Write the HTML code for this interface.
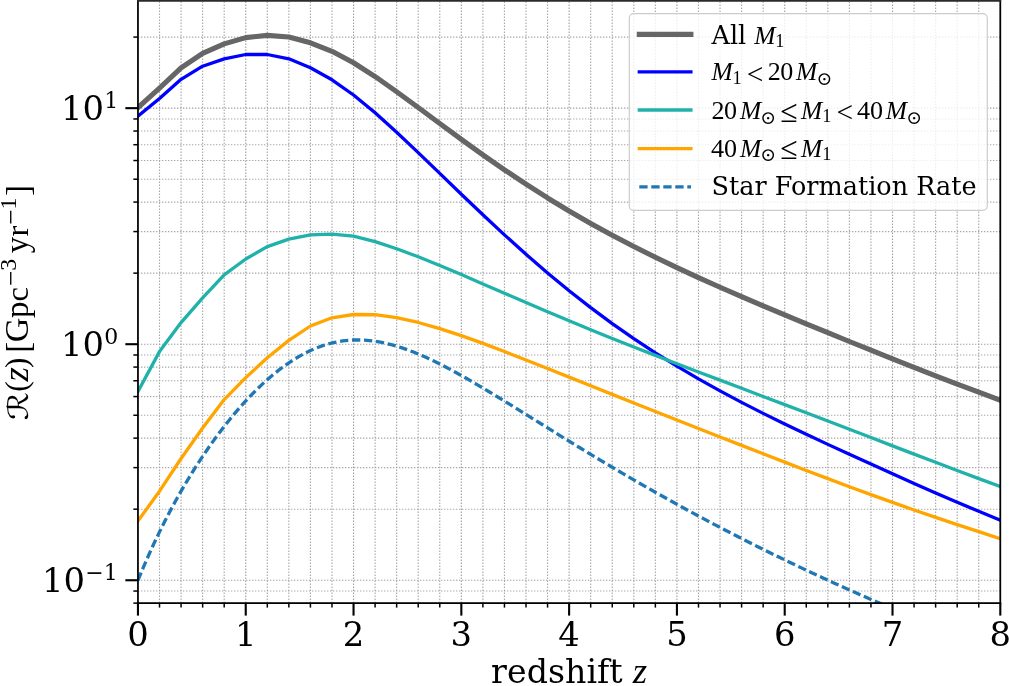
<!DOCTYPE html><html><head><meta charset="utf-8"><style>html,body{margin:0;padding:0;background:#fff;}svg{display:block}.dv{font-family:"DejaVu Serif",serif}.lb{font-family:"Liberation Serif","DejaVu Serif",serif}</style></head><body>
<svg width="1009" height="686" viewBox="0 0 1009 686">
<rect x="0" y="0" width="1009" height="686" fill="#ffffff"/>
<defs><clipPath id="ax"><rect x="137.95" y="0.3" width="862.3499999999999" height="602.7"/></clipPath></defs>
<g clip-path="url(#ax)"><line x1="137.95" y1="603.0" x2="137.95" y2="0.3" stroke="#a0a0a0" stroke-width="1.13" stroke-dasharray="1.4 1.6"/><line x1="159.51" y1="603.0" x2="159.51" y2="0.3" stroke="#a8a8a8" stroke-width="1.13" stroke-dasharray="1.4 1.6"/><line x1="181.07" y1="603.0" x2="181.07" y2="0.3" stroke="#a8a8a8" stroke-width="1.13" stroke-dasharray="1.4 1.6"/><line x1="202.63" y1="603.0" x2="202.63" y2="0.3" stroke="#a8a8a8" stroke-width="1.13" stroke-dasharray="1.4 1.6"/><line x1="224.19" y1="603.0" x2="224.19" y2="0.3" stroke="#a8a8a8" stroke-width="1.13" stroke-dasharray="1.4 1.6"/><line x1="245.74" y1="603.0" x2="245.74" y2="0.3" stroke="#a0a0a0" stroke-width="1.13" stroke-dasharray="1.4 1.6"/><line x1="267.30" y1="603.0" x2="267.30" y2="0.3" stroke="#a8a8a8" stroke-width="1.13" stroke-dasharray="1.4 1.6"/><line x1="288.86" y1="603.0" x2="288.86" y2="0.3" stroke="#a8a8a8" stroke-width="1.13" stroke-dasharray="1.4 1.6"/><line x1="310.42" y1="603.0" x2="310.42" y2="0.3" stroke="#a8a8a8" stroke-width="1.13" stroke-dasharray="1.4 1.6"/><line x1="331.98" y1="603.0" x2="331.98" y2="0.3" stroke="#a8a8a8" stroke-width="1.13" stroke-dasharray="1.4 1.6"/><line x1="353.54" y1="603.0" x2="353.54" y2="0.3" stroke="#a0a0a0" stroke-width="1.13" stroke-dasharray="1.4 1.6"/><line x1="375.10" y1="603.0" x2="375.10" y2="0.3" stroke="#a8a8a8" stroke-width="1.13" stroke-dasharray="1.4 1.6"/><line x1="396.65" y1="603.0" x2="396.65" y2="0.3" stroke="#a8a8a8" stroke-width="1.13" stroke-dasharray="1.4 1.6"/><line x1="418.21" y1="603.0" x2="418.21" y2="0.3" stroke="#a8a8a8" stroke-width="1.13" stroke-dasharray="1.4 1.6"/><line x1="439.77" y1="603.0" x2="439.77" y2="0.3" stroke="#a8a8a8" stroke-width="1.13" stroke-dasharray="1.4 1.6"/><line x1="461.33" y1="603.0" x2="461.33" y2="0.3" stroke="#a0a0a0" stroke-width="1.13" stroke-dasharray="1.4 1.6"/><line x1="482.89" y1="603.0" x2="482.89" y2="0.3" stroke="#a8a8a8" stroke-width="1.13" stroke-dasharray="1.4 1.6"/><line x1="504.45" y1="603.0" x2="504.45" y2="0.3" stroke="#a8a8a8" stroke-width="1.13" stroke-dasharray="1.4 1.6"/><line x1="526.01" y1="603.0" x2="526.01" y2="0.3" stroke="#a8a8a8" stroke-width="1.13" stroke-dasharray="1.4 1.6"/><line x1="547.57" y1="603.0" x2="547.57" y2="0.3" stroke="#a8a8a8" stroke-width="1.13" stroke-dasharray="1.4 1.6"/><line x1="569.12" y1="603.0" x2="569.12" y2="0.3" stroke="#a0a0a0" stroke-width="1.13" stroke-dasharray="1.4 1.6"/><line x1="590.68" y1="603.0" x2="590.68" y2="0.3" stroke="#a8a8a8" stroke-width="1.13" stroke-dasharray="1.4 1.6"/><line x1="612.24" y1="603.0" x2="612.24" y2="0.3" stroke="#a8a8a8" stroke-width="1.13" stroke-dasharray="1.4 1.6"/><line x1="633.80" y1="603.0" x2="633.80" y2="0.3" stroke="#a8a8a8" stroke-width="1.13" stroke-dasharray="1.4 1.6"/><line x1="655.36" y1="603.0" x2="655.36" y2="0.3" stroke="#a8a8a8" stroke-width="1.13" stroke-dasharray="1.4 1.6"/><line x1="676.92" y1="603.0" x2="676.92" y2="0.3" stroke="#a0a0a0" stroke-width="1.13" stroke-dasharray="1.4 1.6"/><line x1="698.48" y1="603.0" x2="698.48" y2="0.3" stroke="#a8a8a8" stroke-width="1.13" stroke-dasharray="1.4 1.6"/><line x1="720.04" y1="603.0" x2="720.04" y2="0.3" stroke="#a8a8a8" stroke-width="1.13" stroke-dasharray="1.4 1.6"/><line x1="741.60" y1="603.0" x2="741.60" y2="0.3" stroke="#a8a8a8" stroke-width="1.13" stroke-dasharray="1.4 1.6"/><line x1="763.15" y1="603.0" x2="763.15" y2="0.3" stroke="#a8a8a8" stroke-width="1.13" stroke-dasharray="1.4 1.6"/><line x1="784.71" y1="603.0" x2="784.71" y2="0.3" stroke="#a0a0a0" stroke-width="1.13" stroke-dasharray="1.4 1.6"/><line x1="806.27" y1="603.0" x2="806.27" y2="0.3" stroke="#a8a8a8" stroke-width="1.13" stroke-dasharray="1.4 1.6"/><line x1="827.83" y1="603.0" x2="827.83" y2="0.3" stroke="#a8a8a8" stroke-width="1.13" stroke-dasharray="1.4 1.6"/><line x1="849.39" y1="603.0" x2="849.39" y2="0.3" stroke="#a8a8a8" stroke-width="1.13" stroke-dasharray="1.4 1.6"/><line x1="870.95" y1="603.0" x2="870.95" y2="0.3" stroke="#a8a8a8" stroke-width="1.13" stroke-dasharray="1.4 1.6"/><line x1="892.51" y1="603.0" x2="892.51" y2="0.3" stroke="#a0a0a0" stroke-width="1.13" stroke-dasharray="1.4 1.6"/><line x1="914.06" y1="603.0" x2="914.06" y2="0.3" stroke="#a8a8a8" stroke-width="1.13" stroke-dasharray="1.4 1.6"/><line x1="935.62" y1="603.0" x2="935.62" y2="0.3" stroke="#a8a8a8" stroke-width="1.13" stroke-dasharray="1.4 1.6"/><line x1="957.18" y1="603.0" x2="957.18" y2="0.3" stroke="#a8a8a8" stroke-width="1.13" stroke-dasharray="1.4 1.6"/><line x1="978.74" y1="603.0" x2="978.74" y2="0.3" stroke="#a8a8a8" stroke-width="1.13" stroke-dasharray="1.4 1.6"/><line x1="1000.30" y1="603.0" x2="1000.30" y2="0.3" stroke="#a0a0a0" stroke-width="1.13" stroke-dasharray="1.4 1.6"/><line x1="137.95" y1="603.13" x2="1000.3" y2="603.13" stroke="#a8a8a8" stroke-width="1.13" stroke-dasharray="1.4 1.6"/><line x1="137.95" y1="591.05" x2="1000.3" y2="591.05" stroke="#a8a8a8" stroke-width="1.13" stroke-dasharray="1.4 1.6"/><line x1="137.95" y1="580.25" x2="1000.3" y2="580.25" stroke="#a0a0a0" stroke-width="1.13" stroke-dasharray="1.4 1.6"/><line x1="137.95" y1="509.19" x2="1000.3" y2="509.19" stroke="#a8a8a8" stroke-width="1.13" stroke-dasharray="1.4 1.6"/><line x1="137.95" y1="467.63" x2="1000.3" y2="467.63" stroke="#a8a8a8" stroke-width="1.13" stroke-dasharray="1.4 1.6"/><line x1="137.95" y1="438.13" x2="1000.3" y2="438.13" stroke="#a8a8a8" stroke-width="1.13" stroke-dasharray="1.4 1.6"/><line x1="137.95" y1="415.26" x2="1000.3" y2="415.26" stroke="#a8a8a8" stroke-width="1.13" stroke-dasharray="1.4 1.6"/><line x1="137.95" y1="396.57" x2="1000.3" y2="396.57" stroke="#a8a8a8" stroke-width="1.13" stroke-dasharray="1.4 1.6"/><line x1="137.95" y1="380.76" x2="1000.3" y2="380.76" stroke="#a8a8a8" stroke-width="1.13" stroke-dasharray="1.4 1.6"/><line x1="137.95" y1="367.08" x2="1000.3" y2="367.08" stroke="#a8a8a8" stroke-width="1.13" stroke-dasharray="1.4 1.6"/><line x1="137.95" y1="355.00" x2="1000.3" y2="355.00" stroke="#a8a8a8" stroke-width="1.13" stroke-dasharray="1.4 1.6"/><line x1="137.95" y1="344.20" x2="1000.3" y2="344.20" stroke="#a0a0a0" stroke-width="1.13" stroke-dasharray="1.4 1.6"/><line x1="137.95" y1="273.14" x2="1000.3" y2="273.14" stroke="#a8a8a8" stroke-width="1.13" stroke-dasharray="1.4 1.6"/><line x1="137.95" y1="231.58" x2="1000.3" y2="231.58" stroke="#a8a8a8" stroke-width="1.13" stroke-dasharray="1.4 1.6"/><line x1="137.95" y1="202.08" x2="1000.3" y2="202.08" stroke="#a8a8a8" stroke-width="1.13" stroke-dasharray="1.4 1.6"/><line x1="137.95" y1="179.21" x2="1000.3" y2="179.21" stroke="#a8a8a8" stroke-width="1.13" stroke-dasharray="1.4 1.6"/><line x1="137.95" y1="160.52" x2="1000.3" y2="160.52" stroke="#a8a8a8" stroke-width="1.13" stroke-dasharray="1.4 1.6"/><line x1="137.95" y1="144.71" x2="1000.3" y2="144.71" stroke="#a8a8a8" stroke-width="1.13" stroke-dasharray="1.4 1.6"/><line x1="137.95" y1="131.03" x2="1000.3" y2="131.03" stroke="#a8a8a8" stroke-width="1.13" stroke-dasharray="1.4 1.6"/><line x1="137.95" y1="118.95" x2="1000.3" y2="118.95" stroke="#a8a8a8" stroke-width="1.13" stroke-dasharray="1.4 1.6"/><line x1="137.95" y1="108.15" x2="1000.3" y2="108.15" stroke="#a0a0a0" stroke-width="1.13" stroke-dasharray="1.4 1.6"/><line x1="137.95" y1="37.09" x2="1000.3" y2="37.09" stroke="#a8a8a8" stroke-width="1.13" stroke-dasharray="1.4 1.6"/>
<polyline points="137.95,107.60 159.51,88.05 181.07,67.87 202.63,53.33 224.19,43.88 245.74,37.64 267.30,35.35 288.86,37.05 310.42,42.76 331.98,51.33 353.54,62.73 375.10,76.53 396.65,91.74 418.21,107.53 439.77,123.49 461.33,139.33 482.89,154.82 504.45,169.81 526.01,184.21 547.57,197.95 569.12,211.02 590.68,223.45 612.24,235.27 633.80,246.52 655.36,257.28 676.92,267.61 698.48,277.57 720.04,287.23 741.60,296.64 763.15,305.86 784.71,314.93 806.27,323.87 827.83,332.72 849.39,341.49 870.95,350.19 892.51,358.81 914.06,367.33 935.62,375.76 957.18,384.06 978.74,392.22 1000.30,400.22" fill="none" stroke="#666666" stroke-width="5.1" stroke-linejoin="round" stroke-linecap="square"/>
<polyline points="137.95,116.20 159.51,98.40 181.07,79.30 202.63,66.20 224.19,58.90 245.74,54.50 267.30,54.50 288.86,58.80 310.42,67.80 331.98,79.80 353.54,95.00 375.10,112.77 396.65,132.28 418.21,152.64 439.77,173.41 461.33,194.22 482.89,214.78 504.45,234.86 526.01,254.29 547.57,272.93 569.12,290.72 590.68,307.59 612.24,323.55 633.80,338.60 655.36,352.80 676.92,366.19 698.48,378.86 720.04,390.88 741.60,402.35 763.15,413.35 784.71,423.97 806.27,434.29 827.83,444.38 849.39,454.31 870.95,464.11 892.51,473.81 914.06,483.41 935.62,492.91 957.18,502.24 978.74,511.35 1000.30,520.13" fill="none" stroke="#0000ff" stroke-width="3.3" stroke-linejoin="round" stroke-linecap="square"/>
<polyline points="137.95,391.50 159.51,351.60 181.07,322.60 202.63,297.80 224.19,274.80 245.74,259.00 267.30,246.60 288.86,239.10 310.42,234.80 331.98,234.10 353.54,236.10 375.10,241.58 396.65,248.72 418.21,256.79 439.77,265.50 461.33,274.60 482.89,283.90 504.45,293.26 526.01,302.58 547.57,311.79 569.12,320.84 590.68,329.72 612.24,338.43 633.80,346.99 655.36,355.41 676.92,363.71 698.48,371.94 720.04,380.12 741.60,388.28 763.15,396.43 784.71,404.60 806.27,412.80 827.83,421.03 849.39,429.29 870.95,437.56 892.51,445.84 914.06,454.11 935.62,462.33 957.18,470.50 978.74,478.59 1000.30,486.60" fill="none" stroke="#20b2aa" stroke-width="3.3" stroke-linejoin="round" stroke-linecap="square"/>
<polyline points="137.95,521.00 159.51,491.20 181.07,458.50 202.63,428.00 224.19,399.60 245.74,377.60 267.30,357.80 288.86,340.40 310.42,326.00 331.98,317.80 353.54,314.50 375.10,314.73 396.65,317.70 418.21,322.47 439.77,328.58 461.33,335.65 482.89,343.38 504.45,351.54 526.01,359.97 547.57,368.53 569.12,377.15 590.68,385.78 612.24,394.39 633.80,402.97 655.36,411.51 676.92,420.02 698.48,428.50 720.04,436.96 741.60,445.39 763.15,453.79 784.71,462.15 806.27,470.43 827.83,478.62 849.39,486.70 870.95,494.63 892.51,502.39 914.06,509.96 935.62,517.35 957.18,524.57 978.74,531.67 1000.30,538.74" fill="none" stroke="#ffa500" stroke-width="3.3" stroke-linejoin="round" stroke-linecap="square"/>
<polyline points="137.95,580.33 143.34,567.35 148.73,554.98 154.12,543.18 159.51,531.89 164.90,521.07 170.29,510.70 175.68,500.75 181.07,491.17 186.46,481.97 191.85,473.11 197.24,464.58 202.63,456.36 208.02,448.45 213.41,440.83 218.80,433.49 224.19,426.44 229.57,419.65 234.96,413.14 240.35,406.89 245.74,400.92 251.13,395.20 256.52,389.76 261.91,384.58 267.30,379.68 272.69,375.04 278.08,370.69 283.47,366.62 288.86,362.83 294.25,359.32 299.64,356.11 305.03,353.18 310.42,350.55 315.81,348.22 321.20,346.18 326.59,344.43 331.98,342.98 337.37,341.82 342.76,340.94 348.15,340.34 353.54,340.01 358.93,339.95 364.32,340.15 369.71,340.60 375.10,341.28 380.49,342.20 385.88,343.33 391.27,344.66 396.65,346.19 402.04,347.90 407.43,349.78 412.82,351.82 418.21,354.01 423.60,356.33 428.99,358.77 434.38,361.33 439.77,364.00 445.16,366.76 450.55,369.60 455.94,372.52 461.33,375.51 466.72,378.56 472.11,381.66 477.50,384.81 482.89,388.01 488.28,391.23 493.67,394.49 499.06,397.78 504.45,401.08 509.84,404.40 515.23,407.73 520.62,411.08 526.01,414.43 531.40,417.78 536.79,421.14 542.18,424.49 547.57,427.84 552.96,431.19 558.35,434.53 563.74,437.86 569.12,441.18 574.51,444.49 579.90,447.78 585.29,451.07 590.68,454.34 596.07,457.59 601.46,460.83 606.85,464.05 612.24,467.25 617.63,470.44 623.02,473.61 628.41,476.76 633.80,479.90 639.19,483.01 644.58,486.11 649.97,489.18 655.36,492.24 660.75,495.28 666.14,498.30 671.53,501.30 676.92,504.28 682.31,507.24 687.70,510.18 693.09,513.10 698.48,516.00 703.87,518.88 709.26,521.75 714.65,524.59 720.04,527.42 725.43,530.23 730.82,533.01 736.21,535.78 741.60,538.54 746.98,541.27 752.37,543.98 757.76,546.68 763.15,549.36 768.54,552.02 773.93,554.67 779.32,557.29 784.71,559.90 790.10,562.49 795.49,565.07 800.88,567.63 806.27,570.17 811.66,572.70 817.05,575.21 822.44,577.70 827.83,580.18 833.22,582.64 838.61,585.09 844.00,587.52 849.39,589.94 854.78,592.34 860.17,594.72 865.56,597.09 870.95,599.45 876.34,601.79 881.73,604.12 887.12,606.43 892.51,608.73 897.90,611.02 903.29,613.29 908.68,615.55 914.06,617.80 919.45,620.03 924.84,622.25 930.23,624.46 935.62,626.65 941.01,628.83 946.40,631.00 951.79,633.16 957.18,635.30 962.57,637.43 967.96,639.55 973.35,641.66 978.74,643.75 984.13,645.84 989.52,647.91 994.91,649.97 1000.30,652.02" fill="none" stroke="#1f77b4" stroke-width="3.3" stroke-dasharray="8.3 3.7" stroke-linejoin="round"/>
</g>
<line x1="137.95" y1="603.875" x2="137.95" y2="0" stroke="#000" stroke-width="1.75"/>
<line x1="1000.3" y1="603.875" x2="1000.3" y2="0" stroke="#000" stroke-width="1.75"/>
<line x1="137.075" y1="603.0" x2="1001.175" y2="603.0" stroke="#000" stroke-width="1.75"/>
<line x1="137.075" y1="0.85" x2="1001.175" y2="0.85" stroke="#2a2a2a" stroke-width="1.7"/>
<line x1="137.95" y1="603.0" x2="137.95" y2="615.6" stroke="#000" stroke-width="2.1"/><line x1="159.51" y1="603.0" x2="159.51" y2="607.6" stroke="#000" stroke-width="1.5"/><line x1="181.07" y1="603.0" x2="181.07" y2="607.6" stroke="#000" stroke-width="1.5"/><line x1="202.63" y1="603.0" x2="202.63" y2="607.6" stroke="#000" stroke-width="1.5"/><line x1="224.19" y1="603.0" x2="224.19" y2="607.6" stroke="#000" stroke-width="1.5"/><line x1="245.74" y1="603.0" x2="245.74" y2="615.6" stroke="#000" stroke-width="2.1"/><line x1="267.30" y1="603.0" x2="267.30" y2="607.6" stroke="#000" stroke-width="1.5"/><line x1="288.86" y1="603.0" x2="288.86" y2="607.6" stroke="#000" stroke-width="1.5"/><line x1="310.42" y1="603.0" x2="310.42" y2="607.6" stroke="#000" stroke-width="1.5"/><line x1="331.98" y1="603.0" x2="331.98" y2="607.6" stroke="#000" stroke-width="1.5"/><line x1="353.54" y1="603.0" x2="353.54" y2="615.6" stroke="#000" stroke-width="2.1"/><line x1="375.10" y1="603.0" x2="375.10" y2="607.6" stroke="#000" stroke-width="1.5"/><line x1="396.65" y1="603.0" x2="396.65" y2="607.6" stroke="#000" stroke-width="1.5"/><line x1="418.21" y1="603.0" x2="418.21" y2="607.6" stroke="#000" stroke-width="1.5"/><line x1="439.77" y1="603.0" x2="439.77" y2="607.6" stroke="#000" stroke-width="1.5"/><line x1="461.33" y1="603.0" x2="461.33" y2="615.6" stroke="#000" stroke-width="2.1"/><line x1="482.89" y1="603.0" x2="482.89" y2="607.6" stroke="#000" stroke-width="1.5"/><line x1="504.45" y1="603.0" x2="504.45" y2="607.6" stroke="#000" stroke-width="1.5"/><line x1="526.01" y1="603.0" x2="526.01" y2="607.6" stroke="#000" stroke-width="1.5"/><line x1="547.57" y1="603.0" x2="547.57" y2="607.6" stroke="#000" stroke-width="1.5"/><line x1="569.12" y1="603.0" x2="569.12" y2="615.6" stroke="#000" stroke-width="2.1"/><line x1="590.68" y1="603.0" x2="590.68" y2="607.6" stroke="#000" stroke-width="1.5"/><line x1="612.24" y1="603.0" x2="612.24" y2="607.6" stroke="#000" stroke-width="1.5"/><line x1="633.80" y1="603.0" x2="633.80" y2="607.6" stroke="#000" stroke-width="1.5"/><line x1="655.36" y1="603.0" x2="655.36" y2="607.6" stroke="#000" stroke-width="1.5"/><line x1="676.92" y1="603.0" x2="676.92" y2="615.6" stroke="#000" stroke-width="2.1"/><line x1="698.48" y1="603.0" x2="698.48" y2="607.6" stroke="#000" stroke-width="1.5"/><line x1="720.04" y1="603.0" x2="720.04" y2="607.6" stroke="#000" stroke-width="1.5"/><line x1="741.60" y1="603.0" x2="741.60" y2="607.6" stroke="#000" stroke-width="1.5"/><line x1="763.15" y1="603.0" x2="763.15" y2="607.6" stroke="#000" stroke-width="1.5"/><line x1="784.71" y1="603.0" x2="784.71" y2="615.6" stroke="#000" stroke-width="2.1"/><line x1="806.27" y1="603.0" x2="806.27" y2="607.6" stroke="#000" stroke-width="1.5"/><line x1="827.83" y1="603.0" x2="827.83" y2="607.6" stroke="#000" stroke-width="1.5"/><line x1="849.39" y1="603.0" x2="849.39" y2="607.6" stroke="#000" stroke-width="1.5"/><line x1="870.95" y1="603.0" x2="870.95" y2="607.6" stroke="#000" stroke-width="1.5"/><line x1="892.51" y1="603.0" x2="892.51" y2="615.6" stroke="#000" stroke-width="2.1"/><line x1="914.06" y1="603.0" x2="914.06" y2="607.6" stroke="#000" stroke-width="1.5"/><line x1="935.62" y1="603.0" x2="935.62" y2="607.6" stroke="#000" stroke-width="1.5"/><line x1="957.18" y1="603.0" x2="957.18" y2="607.6" stroke="#000" stroke-width="1.5"/><line x1="978.74" y1="603.0" x2="978.74" y2="607.6" stroke="#000" stroke-width="1.5"/><line x1="1000.30" y1="603.0" x2="1000.30" y2="615.6" stroke="#000" stroke-width="2.1"/><line x1="137.95" y1="603.13" x2="133.35" y2="603.13" stroke="#000" stroke-width="1.5"/><line x1="137.95" y1="591.05" x2="133.35" y2="591.05" stroke="#000" stroke-width="1.5"/><line x1="137.95" y1="580.25" x2="125.35" y2="580.25" stroke="#000" stroke-width="2.1"/><line x1="137.95" y1="509.19" x2="133.35" y2="509.19" stroke="#000" stroke-width="1.5"/><line x1="137.95" y1="467.63" x2="133.35" y2="467.63" stroke="#000" stroke-width="1.5"/><line x1="137.95" y1="438.13" x2="133.35" y2="438.13" stroke="#000" stroke-width="1.5"/><line x1="137.95" y1="415.26" x2="133.35" y2="415.26" stroke="#000" stroke-width="1.5"/><line x1="137.95" y1="396.57" x2="133.35" y2="396.57" stroke="#000" stroke-width="1.5"/><line x1="137.95" y1="380.76" x2="133.35" y2="380.76" stroke="#000" stroke-width="1.5"/><line x1="137.95" y1="367.08" x2="133.35" y2="367.08" stroke="#000" stroke-width="1.5"/><line x1="137.95" y1="355.00" x2="133.35" y2="355.00" stroke="#000" stroke-width="1.5"/><line x1="137.95" y1="344.20" x2="125.35" y2="344.20" stroke="#000" stroke-width="2.1"/><line x1="137.95" y1="273.14" x2="133.35" y2="273.14" stroke="#000" stroke-width="1.5"/><line x1="137.95" y1="231.58" x2="133.35" y2="231.58" stroke="#000" stroke-width="1.5"/><line x1="137.95" y1="202.08" x2="133.35" y2="202.08" stroke="#000" stroke-width="1.5"/><line x1="137.95" y1="179.21" x2="133.35" y2="179.21" stroke="#000" stroke-width="1.5"/><line x1="137.95" y1="160.52" x2="133.35" y2="160.52" stroke="#000" stroke-width="1.5"/><line x1="137.95" y1="144.71" x2="133.35" y2="144.71" stroke="#000" stroke-width="1.5"/><line x1="137.95" y1="131.03" x2="133.35" y2="131.03" stroke="#000" stroke-width="1.5"/><line x1="137.95" y1="118.95" x2="133.35" y2="118.95" stroke="#000" stroke-width="1.5"/><line x1="137.95" y1="108.15" x2="125.35" y2="108.15" stroke="#000" stroke-width="2.1"/><line x1="137.95" y1="37.09" x2="133.35" y2="37.09" stroke="#000" stroke-width="1.5"/>
<text class="dv" x="137.95" y="645.6" font-size="33.8" text-anchor="middle" fill="#000">0</text>
<text class="dv" x="245.74" y="645.6" font-size="33.8" text-anchor="middle" fill="#000">1</text>
<text class="dv" x="353.54" y="645.6" font-size="33.8" text-anchor="middle" fill="#000">2</text>
<text class="dv" x="461.33" y="645.6" font-size="33.8" text-anchor="middle" fill="#000">3</text>
<text class="dv" x="569.12" y="645.6" font-size="33.8" text-anchor="middle" fill="#000">4</text>
<text class="dv" x="676.92" y="645.6" font-size="33.8" text-anchor="middle" fill="#000">5</text>
<text class="dv" x="784.71" y="645.6" font-size="33.8" text-anchor="middle" fill="#000">6</text>
<text class="dv" x="892.51" y="645.6" font-size="33.8" text-anchor="middle" fill="#000">7</text>
<text class="dv" x="1000.30" y="645.6" font-size="33.8" text-anchor="middle" fill="#000">8</text>
<g transform="translate(121.00,119.65)"><text fill="#000"><tspan x="-60.00" y="-0.00" font-family="&apos;DejaVu Serif&apos;,serif" font-size="33.80">1</tspan><tspan x="-38.53" y="-0.00" font-family="&apos;DejaVu Serif&apos;,serif" font-size="33.80">0</tspan><tspan x="-16.75" y="-11.55" font-family="&apos;DejaVu Serif&apos;,serif" font-size="22.00">1</tspan></text></g>
<g transform="translate(121.00,355.70)"><text fill="#000"><tspan x="-60.00" y="-0.00" font-family="&apos;DejaVu Serif&apos;,serif" font-size="33.80">1</tspan><tspan x="-38.53" y="-0.00" font-family="&apos;DejaVu Serif&apos;,serif" font-size="33.80">0</tspan><tspan x="-16.75" y="-11.55" font-family="&apos;DejaVu Serif&apos;,serif" font-size="22.00">0</tspan></text></g>
<g transform="translate(121.00,591.75)"><text fill="#000"><tspan x="-79.00" y="-0.00" font-family="&apos;DejaVu Serif&apos;,serif" font-size="33.80">1</tspan><tspan x="-57.53" y="-0.00" font-family="&apos;DejaVu Serif&apos;,serif" font-size="33.80">0</tspan><tspan x="-35.75" y="-11.55" font-family="&apos;DejaVu Serif&apos;,serif" font-size="22.00">−</tspan><tspan x="-17.34" y="-11.55" font-family="&apos;DejaVu Serif&apos;,serif" font-size="22.00">1</tspan></text></g>
<g transform="translate(569.10,683.20)"><text fill="#000"><tspan x="-78.00" y="-0.00" font-family="&apos;DejaVu Serif&apos;,serif" font-size="33.20">r</tspan><tspan x="-62.11" y="-0.00" font-family="&apos;DejaVu Serif&apos;,serif" font-size="33.20">e</tspan><tspan x="-42.43" y="-0.00" font-family="&apos;DejaVu Serif&apos;,serif" font-size="33.20">d</tspan><tspan x="-21.14" y="-0.00" font-family="&apos;DejaVu Serif&apos;,serif" font-size="33.20">s</tspan><tspan x="-4.08" y="-0.00" font-family="&apos;DejaVu Serif&apos;,serif" font-size="33.20">h</tspan><tspan x="17.33" y="-0.00" font-family="&apos;DejaVu Serif&apos;,serif" font-size="33.20">i</tspan><tspan x="27.97" y="-0.00" font-family="&apos;DejaVu Serif&apos;,serif" font-size="33.20">f</tspan><tspan x="40.27" y="-0.00" font-family="&apos;DejaVu Serif&apos;,serif" font-size="33.20">t</tspan><tspan x="63.77" y="-0.00" font-family="&apos;Liberation Serif&apos;,&apos;DejaVu Serif&apos;,serif" font-size="36.82" font-style="italic">z</tspan></text></g>
<g transform="translate(28.10,302.60) rotate(-90)"><text fill="#000"><tspan x="-89.14" y="-0.77" font-family="&apos;Liberation Serif&apos;,&apos;DejaVu Serif&apos;,serif" font-size="31.23">(</tspan><tspan x="-78.97" y="-0.00" font-family="&apos;Liberation Serif&apos;,&apos;DejaVu Serif&apos;,serif" font-size="36.82" font-style="italic">z</tspan><tspan x="-65.40" y="-0.77" font-family="&apos;Liberation Serif&apos;,&apos;DejaVu Serif&apos;,serif" font-size="31.23">)</tspan><tspan x="-50.19" y="0.79" font-family="&apos;Liberation Serif&apos;,&apos;DejaVu Serif&apos;,serif" font-size="32.81">[</tspan><tspan x="-39.63" y="-0.00" font-family="&apos;Liberation Serif&apos;,&apos;DejaVu Serif&apos;,serif" font-size="34.10">G</tspan><tspan x="-15.40" y="-0.00" font-family="&apos;Liberation Serif&apos;,&apos;DejaVu Serif&apos;,serif" font-size="32.86">p</tspan><tspan x="1.11" y="-0.00" font-family="&apos;Liberation Serif&apos;,&apos;DejaVu Serif&apos;,serif" font-size="32.44">c</tspan><tspan x="16.55" y="-8.28" font-family="&apos;Liberation Serif&apos;,&apos;DejaVu Serif&apos;,serif" font-size="27.82">−</tspan><tspan x="31.81" y="-11.64" font-family="&apos;Liberation Serif&apos;,&apos;DejaVu Serif&apos;,serif" font-size="23.87">3</tspan><tspan x="49.25" y="-0.00" font-family="&apos;Liberation Serif&apos;,&apos;DejaVu Serif&apos;,serif" font-size="32.87">y</tspan><tspan x="66.18" y="-0.00" font-family="&apos;Liberation Serif&apos;,&apos;DejaVu Serif&apos;,serif" font-size="32.41">r</tspan><tspan x="77.80" y="-8.28" font-family="&apos;Liberation Serif&apos;,&apos;DejaVu Serif&apos;,serif" font-size="27.82">−</tspan><tspan x="93.23" y="-11.64" font-family="&apos;Liberation Serif&apos;,&apos;DejaVu Serif&apos;,serif" font-size="23.80">1</tspan><tspan x="106.52" y="0.79" font-family="&apos;Liberation Serif&apos;,&apos;DejaVu Serif&apos;,serif" font-size="32.81">]</tspan></text><text transform="translate(-117.88,-0.15) scale(1.253,1)" x="0" y="0" font-family="&apos;DejaVu Sans&apos;,&apos;DejaVu Serif&apos;,serif" font-size="28.19" fill="#000">ℛ</text></g>
<rect x="629.3" y="13.7" width="358.0" height="196.60000000000002" rx="4.5" ry="4.5" fill="#ffffff" fill-opacity="0.8" stroke="#cccccc" stroke-width="1.2"/>
<line x1="639.3" y1="34.4" x2="690.9" y2="34.4" stroke="#666666" stroke-width="5.1" stroke-linecap="square"/>
<g transform="translate(711.50,43.60)"><text fill="#000"><tspan x="0.00" y="-0.00" font-family="&apos;DejaVu Serif&apos;,serif" font-size="25.50">A</tspan><tspan x="18.42" y="-0.00" font-family="&apos;DejaVu Serif&apos;,serif" font-size="25.50">l</tspan><tspan x="26.57" y="-0.00" font-family="&apos;DejaVu Serif&apos;,serif" font-size="25.50">l</tspan><tspan x="42.69" y="-0.00" font-family="&apos;Liberation Serif&apos;,&apos;DejaVu Serif&apos;,serif" font-size="25.43" font-style="italic">M</tspan><tspan x="63.76" y="3.44" font-family="&apos;Liberation Serif&apos;,&apos;DejaVu Serif&apos;,serif" font-size="18.28">1</tspan></text></g>
<line x1="639.3" y1="71.8" x2="690.9" y2="71.8" stroke="#0000ff" stroke-width="3.3" stroke-linecap="square"/>
<g transform="translate(711.50,80.30)"><text fill="#000"><tspan x="-0.14" y="-0.00" font-family="&apos;Liberation Serif&apos;,&apos;DejaVu Serif&apos;,serif" font-size="25.43" font-style="italic">M</tspan><tspan x="20.92" y="3.44" font-family="&apos;Liberation Serif&apos;,&apos;DejaVu Serif&apos;,serif" font-size="18.28">1</tspan><tspan x="35.30" y="3.29" font-family="&apos;Liberation Serif&apos;,&apos;DejaVu Serif&apos;,serif" font-size="29.49">&lt;</tspan><tspan x="56.20" y="-0.00" font-family="&apos;Liberation Serif&apos;,&apos;DejaVu Serif&apos;,serif" font-size="26.03">2</tspan><tspan x="68.75" y="-0.00" font-family="&apos;Liberation Serif&apos;,&apos;DejaVu Serif&apos;,serif" font-size="26.07">0</tspan><tspan x="84.58" y="-0.00" font-family="&apos;Liberation Serif&apos;,&apos;DejaVu Serif&apos;,serif" font-size="25.43" font-style="italic">M</tspan><tspan x="104.94" y="4.85" font-family="&apos;DejaVu Serif&apos;,serif" font-size="18.85">⊙</tspan></text></g>
<line x1="639.3" y1="110.0" x2="690.9" y2="110.0" stroke="#20b2aa" stroke-width="3.3" stroke-linecap="square"/>
<g transform="translate(711.50,118.90)"><text fill="#000"><tspan x="0.05" y="-0.00" font-family="&apos;Liberation Serif&apos;,&apos;DejaVu Serif&apos;,serif" font-size="26.03">2</tspan><tspan x="12.61" y="-0.00" font-family="&apos;Liberation Serif&apos;,&apos;DejaVu Serif&apos;,serif" font-size="26.07">0</tspan><tspan x="28.43" y="-0.00" font-family="&apos;Liberation Serif&apos;,&apos;DejaVu Serif&apos;,serif" font-size="25.43" font-style="italic">M</tspan><tspan x="48.79" y="4.85" font-family="&apos;DejaVu Serif&apos;,serif" font-size="18.85">⊙</tspan><tspan x="68.75" y="2.63" font-family="&apos;Liberation Serif&apos;,&apos;DejaVu Serif&apos;,serif" font-size="31.67">≤</tspan><tspan x="89.61" y="-0.00" font-family="&apos;Liberation Serif&apos;,&apos;DejaVu Serif&apos;,serif" font-size="25.43" font-style="italic">M</tspan><tspan x="110.67" y="3.44" font-family="&apos;Liberation Serif&apos;,&apos;DejaVu Serif&apos;,serif" font-size="18.28">1</tspan><tspan x="125.04" y="3.29" font-family="&apos;Liberation Serif&apos;,&apos;DejaVu Serif&apos;,serif" font-size="29.49">&lt;</tspan><tspan x="145.48" y="-0.00" font-family="&apos;Liberation Serif&apos;,&apos;DejaVu Serif&apos;,serif" font-size="26.19">4</tspan><tspan x="158.50" y="-0.00" font-family="&apos;Liberation Serif&apos;,&apos;DejaVu Serif&apos;,serif" font-size="26.07">0</tspan><tspan x="174.32" y="-0.00" font-family="&apos;Liberation Serif&apos;,&apos;DejaVu Serif&apos;,serif" font-size="25.43" font-style="italic">M</tspan><tspan x="194.68" y="4.85" font-family="&apos;DejaVu Serif&apos;,serif" font-size="18.85">⊙</tspan></text></g>
<line x1="639.3" y1="148.6" x2="690.9" y2="148.6" stroke="#ffa500" stroke-width="3.3" stroke-linecap="square"/>
<g transform="translate(711.50,156.60)"><text fill="#000"><tspan x="-0.41" y="-0.00" font-family="&apos;Liberation Serif&apos;,&apos;DejaVu Serif&apos;,serif" font-size="26.19">4</tspan><tspan x="12.61" y="-0.00" font-family="&apos;Liberation Serif&apos;,&apos;DejaVu Serif&apos;,serif" font-size="26.07">0</tspan><tspan x="28.43" y="-0.00" font-family="&apos;Liberation Serif&apos;,&apos;DejaVu Serif&apos;,serif" font-size="25.43" font-style="italic">M</tspan><tspan x="48.79" y="4.85" font-family="&apos;DejaVu Serif&apos;,serif" font-size="18.85">⊙</tspan><tspan x="68.75" y="2.63" font-family="&apos;Liberation Serif&apos;,&apos;DejaVu Serif&apos;,serif" font-size="31.67">≤</tspan><tspan x="89.61" y="-0.00" font-family="&apos;Liberation Serif&apos;,&apos;DejaVu Serif&apos;,serif" font-size="25.43" font-style="italic">M</tspan><tspan x="110.67" y="3.44" font-family="&apos;Liberation Serif&apos;,&apos;DejaVu Serif&apos;,serif" font-size="18.28">1</tspan></text></g>
<line x1="639.3" y1="186.8" x2="691" y2="186.8" stroke="#1f77b4" stroke-width="3.3" stroke-dasharray="8.3 3.7"/>
<text class="dv" x="711.5" y="195.2" font-size="25.5" fill="#000">Star Formation Rate</text>
</svg></body></html>
